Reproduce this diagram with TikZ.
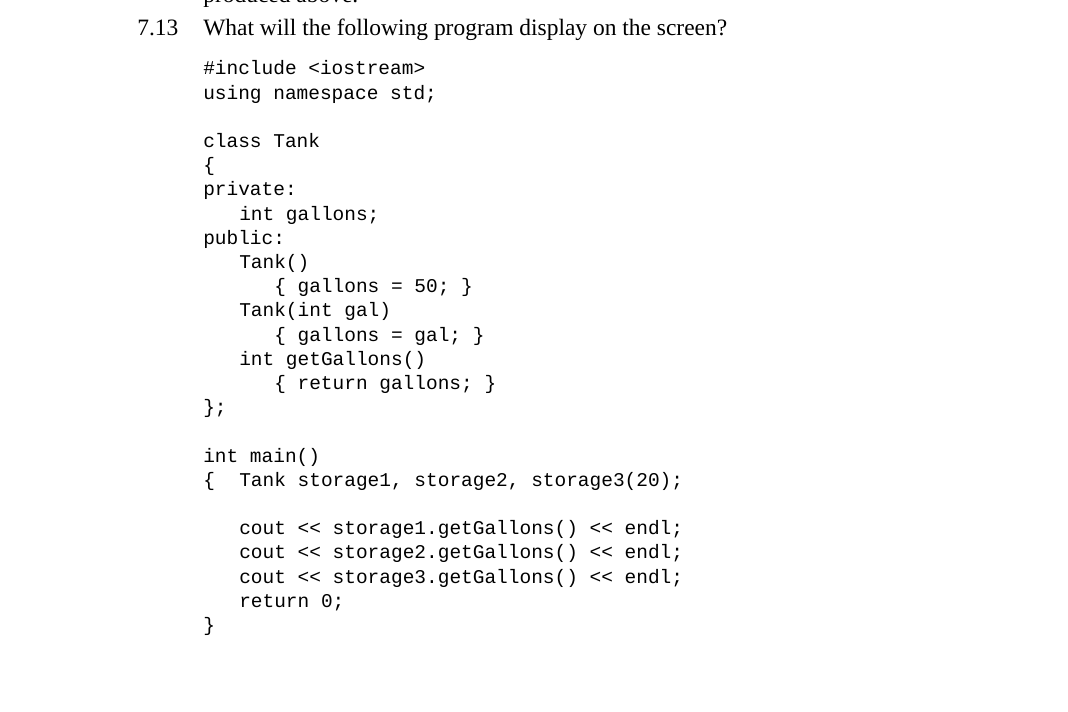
\documentclass[tikz,border=0pt]{standalone}
\usepackage{fontspec}
\setmainfont{Liberation Serif}
\setmonofont{Liberation Mono}
\begin{document}
\begin{tikzpicture}[x=0.75pt,y=-0.75pt,
  head/.style={anchor=base west,inner sep=0pt,font=\fontsize{17.6}{20}\selectfont},
  code/.style={anchor=base west,inner sep=0pt,font=\ttfamily\fontsize{14.6}{16}\selectfont}]
\useasboundingbox (0,0) rectangle (1068,712);
\begin{scope}
\clip (0,0) rectangle (1068,712);
\node[head] (prev) at (203,3) {produced above.};
\end{scope}
\node[head] (num) at (137,36) {7.13};
\node[head] (q) at (203,36) {What will the following program display on the screen?};
\def\L#1{75+24.2*#1}
\node[code] (l0) at (203,{\L0}) {\#include <iostream>};
\node[code] (l1) at (203,{\L1}) {using namespace std;};
\node[code] (l3) at (203,{\L3}) {class Tank};
\node[code] (l4) at (203,{\L4}) {\{};
\node[code] (l5) at (203,{\L5}) {private:};
\node[code] (l6) at (239,{\L6}) {int gallons;};
\node[code] (l7) at (203,{\L7}) {public:};
\node[code] (l8) at (239,{\L8}) {Tank()};
\node[code] (l9) at (274,{\L9}) {\{ gallons = 50; \}};
\node[code] (l10) at (239,{\L{10}}) {Tank(int gal)};
\node[code] (l11) at (274,{\L{11}}) {\{ gallons = gal; \}};
\node[code] (l12) at (239,{\L{12}}) {int getGallons()};
\node[code] (l13) at (274,{\L{13}}) {\{ return gallons; \}};
\node[code] (l14) at (203,{\L{14}}) {\};};
\node[code] (l16) at (203,{\L{16}}) {int main()};
\node[code] (l17a) at (203,{\L{17}}) {\{};
\node[code] (l17) at (239,{\L{17}}) {Tank storage1, storage2, storage3(20);};
\node[code] (l19) at (239,{\L{19}}) {cout << storage1.getGallons() << endl;};
\node[code] (l20) at (239,{\L{20}}) {cout << storage2.getGallons() << endl;};
\node[code] (l21) at (239,{\L{21}}) {cout << storage3.getGallons() << endl;};
\node[code] (l22) at (239,{\L{22}}) {return 0;};
\node[code] (l23) at (203,{\L{23}}) {\}};
\end{tikzpicture}
\end{document}
